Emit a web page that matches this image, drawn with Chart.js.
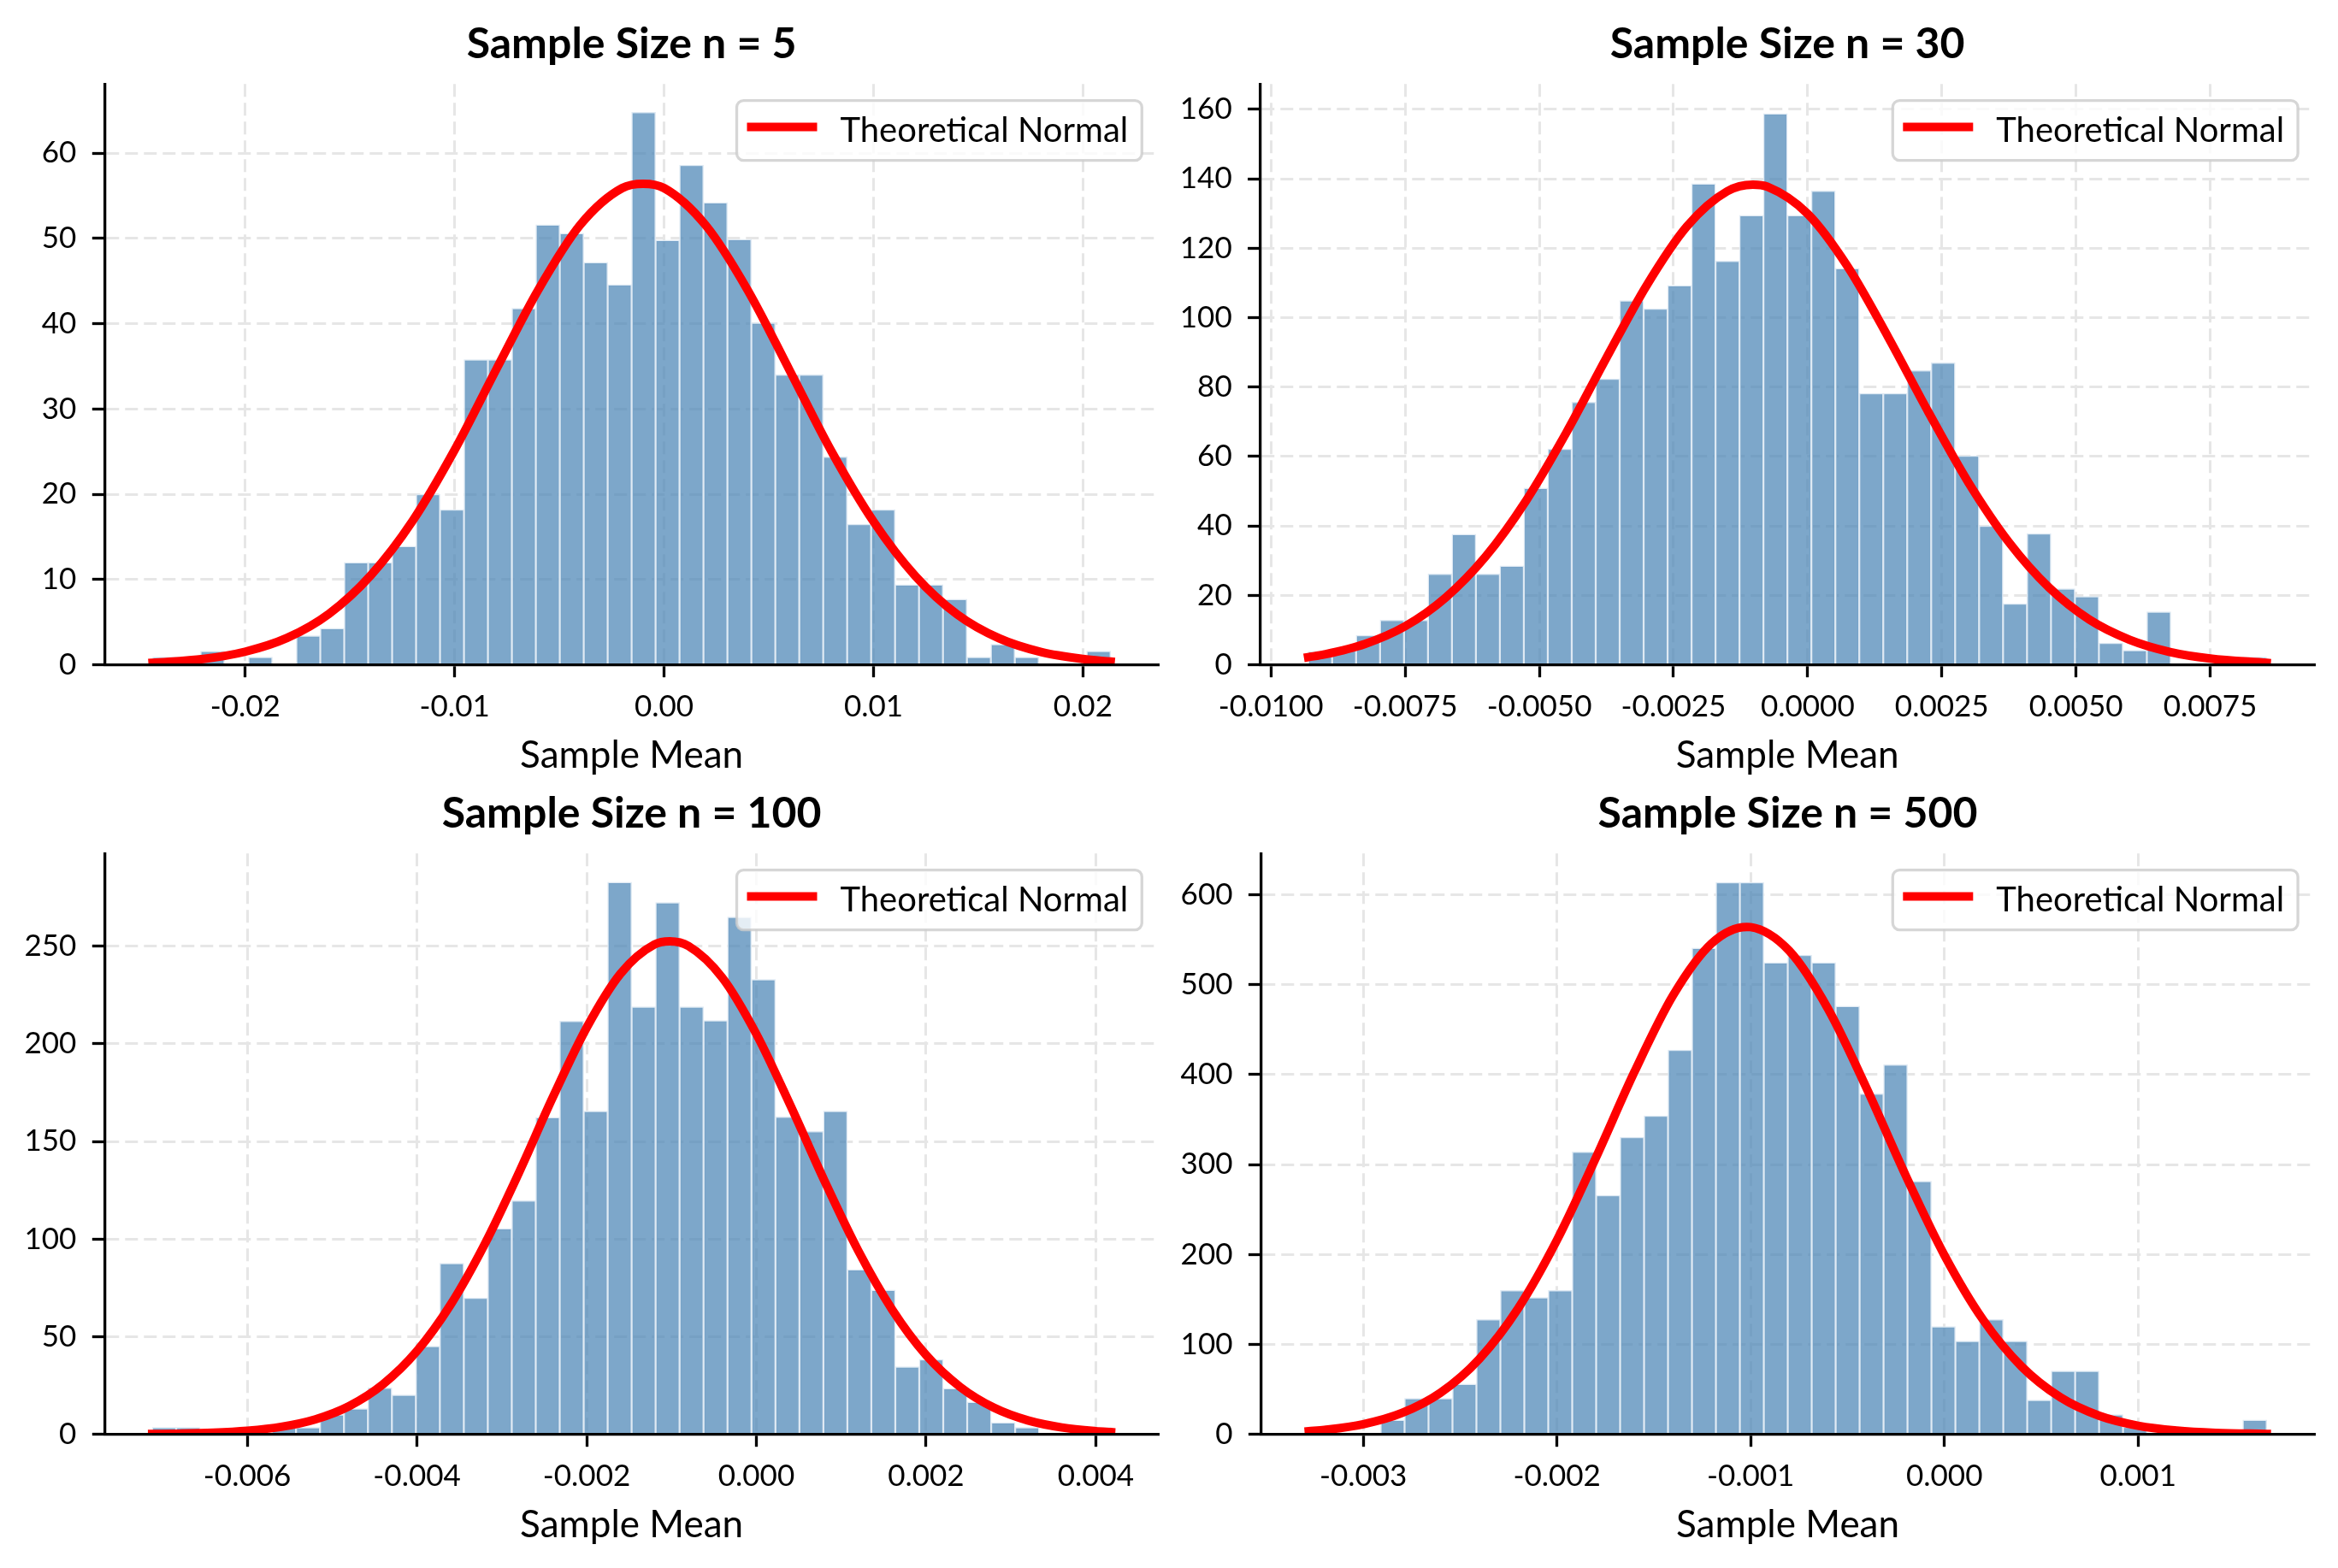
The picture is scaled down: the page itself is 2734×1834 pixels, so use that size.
<!DOCTYPE html>
<html>
<head>
<meta charset="utf-8">
<title>Sampling distribution of the sample mean</title>
<script src="https://cdn.jsdelivr.net/npm/chart.js@4.4.1/dist/chart.umd.min.js"></script>
<style>
  html, body { margin: 0; padding: 0; background: #fff; overflow: hidden; }
  #wrap { position: relative; width: 2734px; height: 1834px; background: #fff; }
  canvas { position: absolute; }
</style>
</head>
<body>
<div id="wrap">
  <canvas id="chartN5" width="1367" height="917" style="left:0px;top:0px"></canvas>
  <canvas id="chartN30" width="1367" height="917" style="left:1367px;top:0px"></canvas>
  <canvas id="chartN100" width="1367" height="917" style="left:0px;top:917px"></canvas>
  <canvas id="chartN500" width="1367" height="917" style="left:1367px;top:917px"></canvas>
</div>
<script>
// --- data (density histograms, 40 bins each) ---
const xLabel = 'Sample Mean';
const curveLabel = 'Theoretical Normal';

// n = 5
const binRange_n5 = [-0.02442, 0.02132];
const density_n5 = [0.9, 0.9, 1.6, 0, 0.9, 0, 3.4, 4.3, 12.0, 12.0,
                    13.9, 20.0, 18.2, 35.8, 35.8, 41.8, 51.6, 50.6, 47.2, 44.6,
                    64.8, 49.8, 58.6, 54.2, 49.9, 40.1, 34.0, 34.0, 24.4, 16.5,
                    18.2, 9.4, 9.4, 7.7, 0.9, 2.4, 0.9, 0, 0, 1.6];
const curveX_n5 = [-0.02442, -0.022, -0.020, -0.018, -0.016, -0.014, -0.012, -0.010, -0.008, -0.006,
                   -0.004, -0.002, -0.001, 0.000, 0.002, 0.004, 0.006, 0.008, 0.010, 0.012,
                   0.014, 0.016, 0.018, 0.020, 0.02132];
const curveY_n5 = [0.24, 0.69, 1.54, 3.15, 5.98, 10.5, 16.9, 25.2, 34.7, 44.0,
                   51.6, 55.9, 56.4, 55.9, 51.5, 43.9, 34.5, 25.0, 16.8, 10.4,
                   5.9, 3.1, 1.5, 0.68, 0.38];
const xLimits_n5 = [-0.02671, 0.02361];
const yMax_n5 = 68.1;
const xTicks_n5 = [-0.02, -0.01, 0, 0.01, 0.02];
const xTickLabels_n5 = ['-0.02', '-0.01', '0.00', '0.01', '0.02'];
const yTicks_n5 = [0, 10, 20, 30, 40, 50, 60];

// n = 30
const binRange_n30 = [-0.009307, 0.008552];
const density_n30 = [3.9, 4.5, 8.5, 12.9, 12.9, 26.2, 37.6, 26.2, 28.5, 50.9,
                     62.2, 75.7, 82.4, 104.9, 102.6, 109.3, 138.6, 116.3, 129.5, 158.8,
                     129.5, 136.5, 114.2, 78.2, 78.2, 84.8, 87.0, 60.2, 40.0, 17.6,
                     37.8, 21.9, 19.7, 6.3, 4.2, 15.3, 0, 0, 0, 2.2];
const curveX_n30 = [-0.009307, -0.0090, -0.00825, -0.0075, -0.00675, -0.0060, -0.00525, -0.0045, -0.00375, -0.0030,
                    -0.00225, -0.0015, -0.00102, -0.00075, 0.0, 0.00075, 0.0015, 0.00225, 0.0030, 0.00375,
                    0.0045, 0.00525, 0.0060, 0.00675, 0.0075, 0.008552];
const curveY_n30 = [2.2, 3.0, 6.0, 11.1, 19.3, 31.2, 47.2, 66.8, 88.4, 109.3,
                    126.3, 136.4, 138.3, 137.7, 129.9, 114.6, 94.4, 72.8, 52.4, 35.3,
                    22.2, 13.0, 7.2, 3.7, 1.8, 0.56];
const xLimits_n30 = [-0.0102, 0.009445];
const yMax_n30 = 167.3;
const xTicks_n30 = [-0.01, -0.0075, -0.005, -0.0025, 0, 0.0025, 0.005, 0.0075];
const xTickLabels_n30 = ['-0.0100', '-0.0075', '-0.0050', '-0.0025', '0.0000', '0.0025', '0.0050', '0.0075'];
const yTicks_n30 = [0, 20, 40, 60, 80, 100, 120, 140, 160];

// n = 100
const binRange_n100 = [-0.00712, 0.00418];
const density_n100 = [3.5, 3.5, 0, 0, 0, 3.5, 3.5, 10.1, 13.1, 23.8,
                      20.1, 45.1, 87.6, 69.9, 105.4, 119.7, 162.4, 211.7, 165.6, 282.8,
                      219.0, 272.4, 219.0, 212.0, 265.0, 233.0, 162.6, 155.1, 165.6, 84.4,
                      73.9, 34.6, 38.3, 23.6, 16.5, 6.0, 3.5, 0, 0, 3.5];
const curveX_n100 = [-0.00712, -0.0068, -0.0064, -0.0060, -0.0056, -0.0052, -0.0048, -0.0044, -0.0040, -0.0036,
                     -0.0032, -0.0028, -0.0024, -0.0020, -0.0016, -0.0012, -0.00102, -0.0008, -0.0004, 0.0,
                     0.0004, 0.0008, 0.0012, 0.0016, 0.0020, 0.0024, 0.0028, 0.0032, 0.0036, 0.0040, 0.00418];
const curveY_n100 = [0.15, 0.31, 0.77, 1.8, 3.8, 7.6, 14.4, 25.6, 42.6, 66.6,
                     97.5, 133.8, 172.5, 208.3, 236.0, 250.9, 252.5, 250.1, 233.8, 205.0,
                     168.6, 130.1, 94.1, 63.9, 40.6, 24.3, 13.6, 7.1, 3.5, 1.6, 1.1];
const xLimits_n100 = [-0.00768, 0.00474];
const yMax_n100 = 297.5;
const xTicks_n100 = [-0.006, -0.004, -0.002, 0, 0.002, 0.004];
const xTickLabels_n100 = ['-0.006', '-0.004', '-0.002', '0.000', '0.002', '0.004'];
const yTicks_n100 = [0, 50, 100, 150, 200, 250];

// n = 500
const binRange_n500 = [-0.003281, 0.001664];
const density_n500 = [8, 0, 0, 16, 40, 40, 56, 127.7, 160, 152.2,
                      160, 314, 265.8, 330.6, 354.2, 427.6, 540.9, 613.9, 613.9, 524.7,
                      533, 524.7, 476.2, 378.7, 411, 281.6, 119.8, 103.6, 127.7, 103.6,
                      38, 70.4, 70.4, 21.9, 8, 0, 0, 0, 0, 16];
const curveX_n500 = [-0.003281, -0.0032, -0.0030, -0.0028, -0.0026, -0.0024, -0.0022, -0.0020, -0.0018, -0.0016,
                     -0.0014, -0.0012, -0.00102, -0.0010, -0.0008, -0.0006, -0.0004, -0.0002, 0.0, 0.0002,
                     0.0004, 0.0006, 0.0008, 0.0010, 0.0012, 0.0014, 0.001664];
const curveY_n500 = [3.4, 4.9, 11.2, 23.7, 46.4, 84.0, 140.2, 216.0, 307.1, 403.1,
                     488.4, 546.3, 564.3, 564.1, 537.6, 473.0, 384.2, 288.0, 199.3, 127.3,
                     75.1, 40.9, 20.5, 9.5, 4.1, 1.6, 0.42];
const xLimits_n500 = [-0.003528, 0.001911];
const yMax_n500 = 646;
const xTicks_n500 = [-0.003, -0.002, -0.001, 0, 0.001];
const xTickLabels_n500 = ['-0.003', '-0.002', '-0.001', '0.000', '0.001'];
const yTicks_n500 = [0, 100, 200, 300, 400, 500, 600];

// --- styling / layout (plot area in canvas pixels) ---
const FONT = 'Lato, "Open Sans", sans-serif';
const BAR_FILL = 'rgba(70, 130, 180, 0.7)';
const BAR_EDGE = 'rgba(222, 233, 243, 1)';
const GRID = '#e6e6e6';

const topRow = { top: 98.3, bottom: 777.6, titleTop: 21.7, labelPad: 7.1 };
const bottomRow = { top: 81.3, bottom: 760.6, titleTop: 4.7, labelPad: 24.1 };

// legend drawn as a framed box in the upper right of the plot area
const legendBox = {
    id: 'legendBox',
    afterDraw(chart) {
        const ctx = chart.ctx;
        const area = chart.chartArea;
        const ds = chart.data.datasets[0];
        ctx.save();
        ctx.font = '40px ' + FONT;
        const tw = ctx.measureText(ds.label).width;
        const w = 12 + 82 + 27 + tw + 16;
        const h = 70;
        const x = area.right - 19.5 - w;
        const y = area.top + 19.3;
        ctx.beginPath();
        ctx.roundRect(x, y, w, h, 8);
        ctx.fillStyle = 'rgba(255, 255, 255, 0.8)';
        ctx.fill();
        ctx.lineWidth = 3.3;
        ctx.strokeStyle = 'rgba(204, 204, 204, 0.8)';
        ctx.stroke();
        ctx.beginPath();
        ctx.moveTo(x + 12, y + h / 2 - 4);
        ctx.lineTo(x + 94, y + h / 2 - 4);
        ctx.lineWidth = 10;
        ctx.strokeStyle = ds.borderColor;
        ctx.stroke();
        ctx.fillStyle = '#000';
        ctx.textBaseline = 'middle';
        ctx.textAlign = 'left';
        ctx.fillText(ds.label, x + 121, y + h / 2);
        ctx.restore();
    }
};

function axisStyle() {
    return {
        grid: { color: GRID, lineWidth: 3, tickColor: '#000', tickWidth: 3.3, tickLength: 14.6, offset: false },
        border: { color: '#000', width: 3.3, dash: [15, 7], z: 1 }
    };
}

function drawPanel(id, p, area) {
    const canvas = document.getElementById(id);
    const W = canvas.width, H = canvas.height;
    const binW = (p.binRange[1] - p.binRange[0]) / p.density.length;
    const bars = p.density.map((v, i) => ({ x: p.binRange[0] + (i + 0.5) * binW, y: v }));
    const curve = p.curveX.map((x, i) => ({ x: x, y: p.curveY[i] }));

    new Chart(canvas.getContext('2d'), {
        type: 'bar',
        data: {
            datasets: [{
                type: 'line',
                label: curveLabel,
                data: curve,
                borderColor: '#ff0000',
                borderWidth: 10,
                pointRadius: 0,
                cubicInterpolationMode: 'monotone',
                borderCapStyle: 'square',
                order: 0
            }, {
                type: 'bar',
                label: 'Sample means',
                data: bars,
                backgroundColor: BAR_FILL,
                borderColor: BAR_EDGE,
                borderWidth: 1.5,
                borderSkipped: 'start',
                barPercentage: 1,
                categoryPercentage: 1,
                order: 1
            }]
        },
        options: {
            responsive: false,
            animation: false,
            devicePixelRatio: 1,
            layout: { padding: { left: 0, top: 0, bottom: 0, right: W - area.right } },
            plugins: {
                legend: { display: false },
                tooltip: { enabled: false },
                title: {
                    display: true,
                    text: p.title,
                    fullSize: false,
                    color: '#000',
                    font: { family: FONT, size: 50, weight: 'bold', lineHeight: 1.2 },
                    padding: { top: area.titleTop, bottom: area.top - area.titleTop - 60 }
                }
            },
            scales: {
                x: Object.assign(axisStyle(), {
                    type: 'linear',
                    offset: false,
                    bounds: 'data',
                    min: p.xLimits[0],
                    max: p.xLimits[1],
                    ticks: {
                        color: '#000',
                        font: { family: FONT, size: 35 },
                        padding: 13.3,
                        autoSkip: false,
                        maxRotation: 0,
                        callback: (v, i) => p.xTickLabels[i]
                    },
                    title: {
                        display: true,
                        text: xLabel,
                        color: '#000',
                        font: { family: FONT, size: 44, lineHeight: 1.2 },
                        padding: { top: 0, bottom: area.labelPad }
                    },
                    afterBuildTicks: s => { s.ticks = p.xTicks.map(v => ({ value: v })); },
                    afterFit: s => { s.height = H - area.bottom; }
                }),
                y: Object.assign(axisStyle(), {
                    type: 'linear',
                    bounds: 'data',
                    min: 0,
                    max: p.yMax,
                    ticks: {
                        color: '#000',
                        font: { family: FONT, size: 35 },
                        padding: 18.4,
                        callback: (v, i) => String(p.yTicks[i])
                    },
                    afterBuildTicks: s => { s.ticks = p.yTicks.map(v => ({ value: v })); },
                    afterFit: s => { s.width = area.left; }
                })
            }
        },
        plugins: [legendBox]
    });
}

document.addEventListener('DOMContentLoaded', function () {
    drawPanel('chartN5', {
        title: 'Sample Size n = 5', binRange: binRange_n5, density: density_n5,
        curveX: curveX_n5, curveY: curveY_n5, xLimits: xLimits_n5, yMax: yMax_n5,
        xTicks: xTicks_n5, xTickLabels: xTickLabels_n5, yTicks: yTicks_n5
    }, Object.assign({ left: 122.4, right: 1354.8 }, topRow));

    drawPanel('chartN30', {
        title: 'Sample Size n = 30', binRange: binRange_n30, density: density_n30,
        curveX: curveX_n30, curveY: curveY_n30, xLimits: xLimits_n30, yMax: yMax_n30,
        xTicks: xTicks_n30, xTickLabels: xTickLabels_n30, yTicks: yTicks_n30
    }, Object.assign({ left: 106.7, right: 1339.6 }, topRow));

    drawPanel('chartN100', {
        title: 'Sample Size n = 100', binRange: binRange_n100, density: density_n100,
        curveX: curveX_n100, curveY: curveY_n100, xLimits: xLimits_n100, yMax: yMax_n100,
        xTicks: xTicks_n100, xTickLabels: xTickLabels_n100, yTicks: yTicks_n100
    }, Object.assign({ left: 122.4, right: 1354.8 }, bottomRow));

    drawPanel('chartN500', {
        title: 'Sample Size n = 500', binRange: binRange_n500, density: density_n500,
        curveX: curveX_n500, curveY: curveY_n500, xLimits: xLimits_n500, yMax: yMax_n500,
        xTicks: xTicks_n500, xTickLabels: xTickLabels_n500, yTicks: yTicks_n500
    }, Object.assign({ left: 107.5, right: 1339.6 }, bottomRow));
});
</script>
</body>
</html>
